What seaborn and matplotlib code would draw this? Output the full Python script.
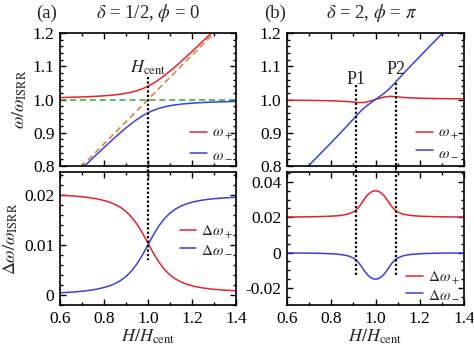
import numpy as np
import pandas as pd
import matplotlib
matplotlib.use("Agg")
import matplotlib.pyplot as plt
from matplotlib.ticker import MultipleLocator, FixedLocator, FixedFormatter
import seaborn as sns

# ---- data -------------------------------------------------------------
# (a) delta = 1/2, phi = 0
H_a = [0.6, 0.625, 0.65, 0.675, 0.7, 0.725, 0.75, 0.775, 0.8, 0.825, 0.85,
       0.875, 0.9, 0.925, 0.95, 0.975, 1.0, 1.025, 1.05, 1.075, 1.1, 1.125,
       1.15, 1.175, 1.2, 1.225, 1.25, 1.275, 1.3, 1.325, 1.35, 1.375, 1.4]
w_plus_a = [1.0059, 1.0062, 1.0067, 1.0072, 1.0077, 1.0084, 1.0091, 1.0100,
            1.0111, 1.0124, 1.0140, 1.0161, 1.0187, 1.0222, 1.0267, 1.0325,
            1.0400, 1.0492, 1.0600, 1.0722, 1.0854, 1.0994, 1.1140, 1.1291,
            1.1444, 1.1600, 1.1758, 1.1917, 1.2077, 1.2238, 1.2400, 1.2562,
            1.2725]
w_minus_a = [0.7275, 0.7438, 0.7600, 0.7762, 0.7923, 0.8083, 0.8242, 0.8400,
             0.8556, 0.8709, 0.8860, 0.9006, 0.9146, 0.9278, 0.9400, 0.9508,
             0.9600, 0.9675, 0.9733, 0.9778, 0.9813, 0.9839, 0.9860, 0.9876,
             0.9889, 0.9900, 0.9909, 0.9917, 0.9923, 0.9929, 0.9933, 0.9938,
             0.9941]
dw_plus_a = [0.01995, 0.01990, 0.01983, 0.01975, 0.01965, 0.01952, 0.01936,
             0.01916, 0.01890, 0.01857, 0.01812, 0.01752, 0.01670, 0.01560,
             0.01416, 0.01237, 0.01035, 0.00833, 0.00654, 0.00511, 0.00401,
             0.00320, 0.00261, 0.00217, 0.00185, 0.00160, 0.00141, 0.00126,
             0.00114, 0.00105, 0.00097, 0.00090, 0.00085]
dw_minus_a = [0.00045, 0.00050, 0.00057, 0.00065, 0.00075, 0.00088, 0.00104,
              0.00124, 0.00150, 0.00183, 0.00228, 0.00288, 0.00370, 0.00480,
              0.00624, 0.00803, 0.01005, 0.01207, 0.01386, 0.01529, 0.01639,
              0.01720, 0.01779, 0.01823, 0.01855, 0.01880, 0.01899, 0.01914,
              0.01926, 0.01935, 0.01943, 0.01950, 0.01955]
# uncoupled branches drawn dashed in (a)
H_ref = [0.6, 1.4]
w_isrr_ref = [1.0, 1.0]
w_h_ref = [0.7333, 1.2667]
H_cent = 1.0

# (b) delta = 2, phi = pi
H_b = [0.6, 0.625, 0.65, 0.675, 0.7, 0.725, 0.75, 0.775, 0.8, 0.825, 0.85,
       0.875, 0.9, 0.9125, 0.925, 0.9375, 0.95, 0.9625, 0.975, 0.9875, 1.0,
       1.0125, 1.025, 1.0375, 1.05, 1.0625, 1.075, 1.0875, 1.1, 1.125, 1.15,
       1.175, 1.2, 1.225, 1.25, 1.275, 1.3, 1.325, 1.35, 1.375, 1.4]
w_plus_b = [0.9980, 0.9979, 0.9977, 0.9976, 0.9974, 0.9971, 0.9968, 0.9965,
            0.9960, 0.9955, 0.9947, 0.9937, 0.9923, 0.9915, 0.9908, 0.9907,
            0.9915, 0.9931, 0.9952, 0.9975, 1.0000, 1.0025, 1.0048, 1.0069,
            1.0085, 1.0093, 1.0092, 1.0085, 1.0077, 1.0063, 1.0053, 1.0045,
            1.0040, 1.0035, 1.0032, 1.0029, 1.0026, 1.0024, 1.0023, 1.0021,
            1.0020]
w_minus_b = [0.7353, 0.7521, 0.7689, 0.7858, 0.8026, 0.8195, 0.8365, 0.8535,
             0.8706, 0.8879, 0.9053, 0.9230, 0.9411, 0.9502, 0.9592, 0.9676,
             0.9751, 0.9819, 0.9882, 0.9941, 1.0000, 1.0059, 1.0118, 1.0181,
             1.0249, 1.0324, 1.0408, 1.0498, 1.0589, 1.0770, 1.0947, 1.1121,
             1.1294, 1.1465, 1.1635, 1.1805, 1.1974, 1.2142, 1.2311, 1.2479,
             1.2647]
dw_plus_b = [0.02015, 0.02017, 0.02020, 0.02023, 0.02027, 0.02032, 0.02039,
             0.02049, 0.02063, 0.02084, 0.02118, 0.02179, 0.02302, 0.02414,
             0.02581, 0.02802, 0.03035, 0.03236, 0.03383, 0.03471, 0.03500,
             0.03471, 0.03383, 0.03236, 0.03035, 0.02802, 0.02581, 0.02414,
             0.02302, 0.02179, 0.02118, 0.02084, 0.02063, 0.02049, 0.02039,
             0.02032, 0.02027, 0.02023, 0.02020, 0.02017, 0.02015]
dw_minus_b = [-0.00015, -0.00017, -0.00020, -0.00023, -0.00027, -0.00032,
              -0.00039, -0.00049, -0.00063, -0.00084, -0.00118, -0.00179,
              -0.00302, -0.00414, -0.00581, -0.00802, -0.01035, -0.01236,
              -0.01383, -0.01471, -0.01500, -0.01471, -0.01383, -0.01236,
              -0.01035, -0.00802, -0.00581, -0.00414, -0.00302, -0.00179,
              -0.00118, -0.00084, -0.00063, -0.00049, -0.00039, -0.00032,
              -0.00027, -0.00023, -0.00020, -0.00017, -0.00015]
H_P1, H_P2 = 0.91, 1.093

# tick labels
x_ticks = [0.6, 0.8, 1.0, 1.2, 1.4]
x_ticklabels = ["0.6", "0.8", "1.0", "1.2", "1.4"]
w_ticks = [0.8, 0.9, 1.0, 1.1, 1.2]
w_ticklabels = ["0.8", "0.9", "1.0", "1.1", "1.2"]
dwa_ticks = [0.0, 0.01, 0.02]
dwa_ticklabels = ["0", "0.01", "0.02"]
dwb_ticks = [-0.02, 0.0, 0.02, 0.04]
dwb_ticklabels = ["-0.02", "0", "0.02", "0.04"]

# ---- style ------------------------------------------------------------
sns.set_theme(style="ticks")
plt.rcParams["font.family"] = "serif"
plt.rcParams["font.serif"] = ["Liberation Serif", "DejaVu Serif"]
plt.rcParams["mathtext.fontset"] = "stix"
plt.rcParams["axes.linewidth"] = 1.2
plt.rcParams["axes.edgecolor"] = "black"

RED = "#e8202a"
BLUE = "#3344dd"
GREEN = "#33aa33"
ORANGE = "#e07b30"
FS = 12.5

fig = plt.figure(figsize=(4.74, 3.48), dpi=100)
W, Hh = 474.0, 348.0


def add_axes(x0, x1, y0, y1):
    return fig.add_axes([x0 / W, 1 - y1 / Hh, (x1 - x0) / W, (y1 - y0) / Hh])


ax_a1 = add_axes(60, 236, 33, 166)
ax_a2 = add_axes(60, 236, 172, 305)
ax_b1 = add_axes(287, 464, 33, 166)
ax_b2 = add_axes(287, 464, 172, 305)


def style_axes(ax, yticks, ylabels, yminor, ylim, bottom_labels):
    ax.set_xlim(0.6, 1.4)
    ax.set_ylim(*ylim)
    ax.xaxis.set_major_locator(FixedLocator(x_ticks))
    ax.xaxis.set_minor_locator(MultipleLocator(0.1))
    ax.yaxis.set_major_locator(FixedLocator(yticks))
    ax.yaxis.set_major_formatter(FixedFormatter(ylabels))
    ax.yaxis.set_minor_locator(MultipleLocator(yminor))
    if bottom_labels:
        ax.xaxis.set_major_formatter(FixedFormatter(x_ticklabels))
    else:
        ax.set_xticklabels([])
    ax.tick_params(which="both", direction="in", top=True, right=True,
                   labelsize=FS, width=1.0, colors="black", pad=4)
    ax.tick_params(which="major", length=4.5)
    ax.tick_params(which="minor", length=2.5)
    for s in ax.spines.values():
        s.set_visible(True)
        s.set_color("black")


def draw(ax, x, y, color, label):
    sns.lineplot(x=x, y=y, ax=ax, color=color, lw=1.1, label=label,
                 sort=False, estimator=None)


# (a) top
ax = ax_a1
sns.lineplot(x=H_ref, y=w_isrr_ref, ax=ax, color=GREEN, lw=1.1,
             linestyle=(0, (4, 2.5)), legend=False)
sns.lineplot(x=H_ref, y=w_h_ref, ax=ax, color=ORANGE, lw=1.1,
             linestyle=(0, (4, 2.5)), legend=False)
draw(ax, H_a, w_plus_a, RED, r"$\omega_+$")
draw(ax, H_a, w_minus_a, BLUE, r"$\omega_-$")
style_axes(ax, w_ticks, w_ticklabels, 0.02, (0.8, 1.2), False)
ax.plot([H_cent, H_cent], [1.068, 0.78], color="black", lw=1.6,
        linestyle=(0, (1, 1)), clip_on=False, zorder=5)
ax.text(H_cent, 1.068, r"$H_{\rm cent}$", ha="center", va="bottom",
        fontsize=FS + 0.5)
ax.set_ylabel(r"$\omega/\omega_{\rm ISRR}$", fontsize=FS + 0.5, labelpad=3)

# (a) bottom
ax = ax_a2
draw(ax, H_a, dw_plus_a, RED, r"$\Delta\omega_+$")
draw(ax, H_a, dw_minus_a, BLUE, r"$\Delta\omega_-$")
style_axes(ax, dwa_ticks, dwa_ticklabels, 0.002, (-0.002, 0.0246), True)
ax.plot([H_cent, H_cent], [0.026, 0.007], color="black", lw=1.6,
        linestyle=(0, (1, 1)), clip_on=False, zorder=5)
ax.set_ylabel(r"$\mathit{\Delta}\omega/\omega_{\rm ISRR}$", fontsize=FS + 0.5,
              labelpad=3)
ax.set_xlabel(r"$H/H_{\rm cent}$", fontsize=FS + 0.5, labelpad=1)

# (b) top
ax = ax_b1
draw(ax, H_b, w_plus_b, RED, r"$\omega_+$")
draw(ax, H_b, w_minus_b, BLUE, r"$\omega_-$")
style_axes(ax, w_ticks, w_ticklabels, 0.02, (0.8, 1.2), False)
for hp, ytop, lab, ylab in [(H_P1, 1.044, "P1", 1.036),
                            (H_P2, 1.050, "P2", 1.064)]:
    ax.plot([hp, hp], [ytop, 0.78], color="black", lw=1.6,
            linestyle=(0, (1, 1)), clip_on=False, zorder=5)
    ax.text(hp, ylab, lab, ha="center", va="bottom", fontsize=FS + 0.5,
            zorder=6)

# (b) bottom
ax = ax_b2
draw(ax, H_b, dw_plus_b, RED, r"$\Delta\omega_+$")
draw(ax, H_b, dw_minus_b, BLUE, r"$\Delta\omega_-$")
style_axes(ax, dwb_ticks, dwb_ticklabels, 0.005, (-0.0296, 0.0456), True)
for hp in (H_P1, H_P2):
    ax.plot([hp, hp], [0.049, -0.014], color="black", lw=1.6,
            linestyle=(0, (1, 1)), clip_on=False, zorder=5)
ax.set_xlabel(r"$H/H_{\rm cent}$", fontsize=FS + 0.5, labelpad=1)

# legends: anchor = (handle start, vertical centre) in axes fraction
legend_spots = [(ax_a1, 0.74, 0.165, 0.35),
                (ax_a2, 0.68, 0.49, 0.1),
                (ax_b1, 0.73, 0.177, 0.2),
                (ax_b2, 0.675, 0.147, 0.05)]
for ax, lx, ly, sp in legend_spots:
    ax.legend(loc="center left", bbox_to_anchor=(lx, ly), frameon=False,
              fontsize=11, handlelength=1.1, handletextpad=0.3,
              labelspacing=sp, borderpad=0.0, borderaxespad=0.0)

# panel headings
fig.text(47 / W, 1 - 13 / Hh, "(a)", ha="center", va="center", fontsize=13.5)
fig.text(148 / W, 1 - 13 / Hh, r"$\delta$ = 1/2, $\phi$ = 0", ha="center",
         va="center", fontsize=13.5)
fig.text(275 / W, 1 - 13 / Hh, "(b)", ha="center", va="center", fontsize=13.5)
fig.text(372 / W, 1 - 13 / Hh, r"$\delta$ = 2, $\phi$ = $\pi$", ha="center",
         va="center", fontsize=13.5)

fig.savefig("out.png", dpi=100)
